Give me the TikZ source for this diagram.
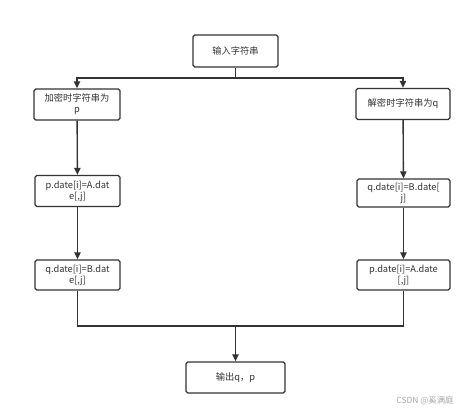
\documentclass[tikz,border=0pt]{standalone}
\usepackage{fontspec}
\setmainfont{Noto Sans CJK SC}
\usepackage{xcolor}
\usepackage{tikz}
\usetikzlibrary{arrows.meta}
\definecolor{linegray}{HTML}{333333}

\begin{document}
\begin{tikzpicture}[x=0.03cm,y=-0.03cm,>={Triangle[length=6pt,width=5.5pt]},
flowbox/.style={draw=linegray,line width=1.15pt,rounded corners=1.5pt,align=center,
  inner sep=1pt,font=\fontsize{7.9}{9.4}\selectfont,text=black!80},
flowline/.style={draw=linegray,line width=1.15pt}]
\useasboundingbox (0,0) rectangle (474,416);
\node[flowbox,minimum width=85*0.03cm,minimum height=32*0.03cm] (in) at (235.5,51) {输入字符串};
\node[flowbox,minimum width=86*0.03cm,minimum height=31*0.03cm] (l1) at (77,104.5) {加密时字符串为\\p};
\node[flowbox,minimum width=94*0.03cm,minimum height=31*0.03cm] (r1) at (403,104) {解密时字符串为q};
\node[flowbox,minimum width=85*0.03cm,minimum height=31*0.03cm] (l2) at (77.5,191) {p.date[i]=A.dat\\e[,j]};
\node[flowbox,minimum width=93*0.03cm,minimum height=28*0.03cm] (r2) at (403.5,193) {q.date[i]=B.date[\\j]};
\node[flowbox,minimum width=85*0.03cm,minimum height=30*0.03cm] (l3) at (77.5,275) {q.date[i]=B.dat\\e[,j]};
\node[flowbox,minimum width=93*0.03cm,minimum height=30*0.03cm] (r3) at (403.5,275) {p.date[i]=A.date\\{}[,j]};
\node[flowbox,minimum width=99*0.03cm,minimum height=31*0.03cm] (out) at (235.5,377.5) {输出q，p};
% split and merge points
\coordinate (split) at (235.5,78);
\coordinate (merge) at (235.5,326);
\draw[flowline] (in) -- (split);
\draw[flowline,->] (split) -| (l1);
\draw[flowline,->] (split) -| (r1);
\draw[flowline,->] (l1) -- (l2);
\draw[flowline,->] (l2) -- (l3);
\draw[flowline,->] (r1) -- (r2);
\draw[flowline,->] (r2) -- (r3);
\draw[flowline] (l3) |- (merge);
\draw[flowline] (r3) |- (merge);
\draw[flowline,->] (merge) -- (out);
\node[text=black!35,font=\fontsize{7.2}{8.5}\selectfont,inner sep=0pt] (mark) at (425,401) {CSDN @奚满庭};
\end{tikzpicture}
\end{document}
